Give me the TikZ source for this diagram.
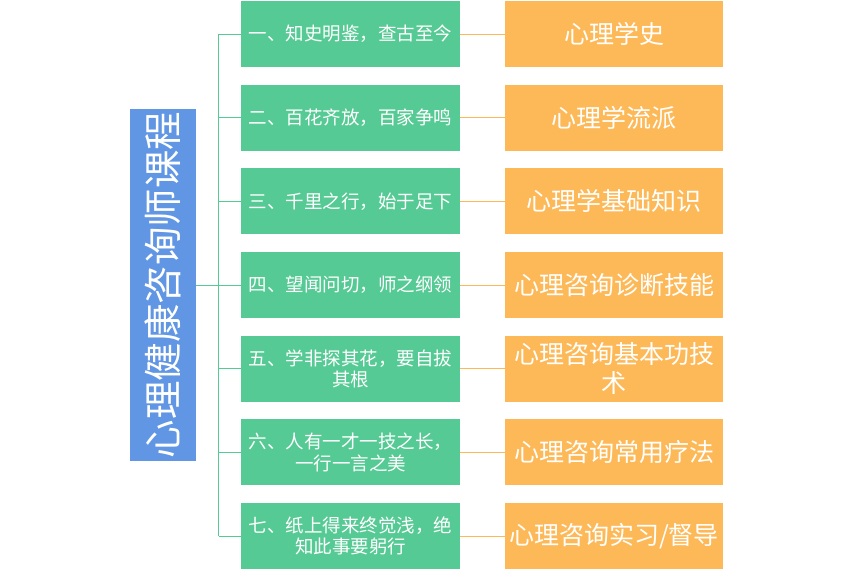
\documentclass[tikz,border=0pt]{standalone}
\usepackage{fontspec}
\newfontfamily\cjk{Noto Sans CJK SC}
\definecolor{mintgreen}{RGB}{86,202,148}
\definecolor{softorange}{RGB}{253,185,87}
\definecolor{skyblue}{RGB}{96,150,227}

\begin{document}
\begin{tikzpicture}[x=1pt, y=-1pt,
    lesson/.style={fill=mintgreen, text=white, minimum width=219pt, minimum height=66pt,
        inner sep=0pt, align=center, font=\cjk\fontsize{18.5}{21.5}\selectfont},
    topic/.style={fill=softorange, text=white, minimum width=218pt, minimum height=66pt,
        inner sep=0pt, align=center, font=\cjk\fontsize{25}{29}\selectfont},
    course/.style={fill=skyblue, text=white, rotate=90, minimum width=352pt, minimum height=66pt,
        inner sep=0pt, font=\cjk\fontsize{38.5}{44}\selectfont},
    branch/.style={draw=mintgreen, line width=1pt},
    leaf/.style={draw=softorange, line width=1pt}]
    \useasboundingbox (0,0) rectangle (854,571);

    \node[course] (course) at (163,285) {心理健康咨询师课程};

    \foreach \i/\lessontext/\topictext in {
        1/{一、知史明鉴，查古至今}/{心理学史},
        2/{二、百花齐放，百家争鸣}/{心理学流派},
        3/{三、千里之行，始于足下}/{心理学基础知识},
        4/{四、望闻问切，师之纲领}/{心理咨询诊断技能},
        5/{五、学非探其花，要自拔\\其根}/{心理咨询基本功技\\术},
        6/{六、人有一才一技之长，\\一行一言之美}/{心理咨询常用疗法},
        7/{七、纸上得来终觉浅，绝\\知此事要躬行}/{心理咨询实习/督导}} {
        \node[lesson] (lesson\i) at (350.5,{34+(\i-1)*83.67}) {\lessontext};
        \node[topic] (topic\i) at (614,{34+(\i-1)*83.67}) {\topictext};
        \draw[leaf] (lesson\i.east) -- (topic\i.west);
    }

    \draw[branch] (course.south) -- ++(22.5,0) coordinate (fork);
    \draw[branch] (fork |- lesson1.west) -- (fork |- lesson7.west);
    \foreach \i in {1,...,7}
        \draw[branch] (fork |- lesson\i.west) -- (lesson\i.west);
\end{tikzpicture}
\end{document}
